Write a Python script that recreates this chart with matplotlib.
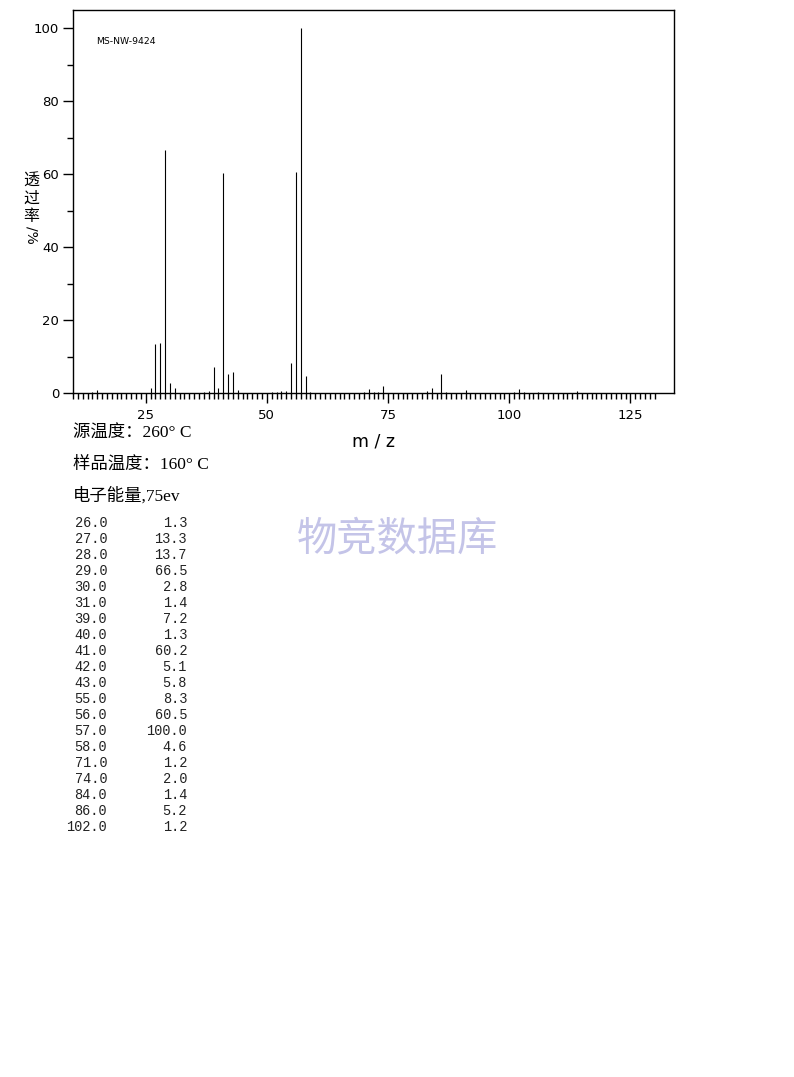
import matplotlib
matplotlib.use("Agg")
import matplotlib.pyplot as plt
from matplotlib.ticker import MultipleLocator, FixedLocator

# ---- data ----
table_mz = [26.0, 27.0, 28.0, 29.0, 30.0, 31.0, 39.0, 40.0, 41.0, 42.0,
            43.0, 55.0, 56.0, 57.0, 58.0, 71.0, 74.0, 84.0, 86.0, 102.0]
table_int = [1.3, 13.3, 13.7, 66.5, 2.8, 1.4, 7.2, 1.3, 60.2, 5.1,
             5.8, 8.3, 60.5, 100.0, 4.6, 1.2, 2.0, 1.4, 5.2, 1.2]
# minor peaks visible in the spectrum but not listed in the table (estimated)
minor_mz = [14, 15, 37, 38, 44, 51, 52, 53, 54, 59, 70, 72, 73, 83, 87, 91, 101, 103, 106, 114]
minor_int = [0.3, 0.8, 0.4, 0.6, 0.9, 0.3, 0.3, 0.6, 0.5, 0.3, 0.4, 0.3, 0.4, 0.5, 0.3, 0.8, 0.4, 0.2, 0.3, 0.5]

y_ticks = [0, 20, 40, 60, 80, 100]
x_ticks = [25, 50, 75, 100, 125]
code = "MS-NW-9424"
info_lines = ["源温度：260° C", "样品温度：160° C", "电子能量,75ev"]
watermark = "物竞数据库"

W, H = 794, 1077
fig = plt.figure(figsize=(W / 100, H / 100), dpi=100)

def fx(x):
    return x / W

def fy(y):
    return 1 - y / H

ax = fig.add_axes([fx(73), fy(393), fx(674) - fx(73), fy(10) - fy(393)])
ax.vlines(minor_mz, 0, minor_int, colors="black", linewidth=0.8)
ax.vlines(table_mz, 0, table_int, colors="black", linewidth=0.8)
ax.set_xlim(10, 134)
ax.set_ylim(0, 105)

for s in ax.spines.values():
    s.set_linewidth(1.0)

ax.xaxis.set_major_locator(FixedLocator(x_ticks))
ax.xaxis.set_minor_locator(FixedLocator([v for v in range(10, 131) if v not in x_ticks]))
ax.yaxis.set_major_locator(FixedLocator(y_ticks))
ax.yaxis.set_minor_locator(MultipleLocator(10))
ax.tick_params(axis="x", which="major", direction="out", length=7.5, width=1, labelsize=9.5, pad=4)
ax.tick_params(axis="x", which="minor", direction="out", length=4, width=1)
ax.tick_params(axis="y", which="major", direction="out", length=7.5, width=1, labelsize=9.5, pad=2.5)
ax.tick_params(axis="y", which="minor", direction="out", length=4, width=1)

fig.text(fx(96), fy(41), code, fontsize=6.7, va="center", ha="left", family="DejaVu Sans")

# axis labels
fig.text(fx(373), fy(441), "m / z", fontsize=12.5, ha="center", va="center", family="DejaVu Sans")
cjk = ["Noto Sans CJK SC", "DejaVu Sans"]
for i, ch in enumerate("透过率"):
    fig.text(fx(31), fy(181 + i * 17.5), ch, fontsize=11.5, ha="center", va="center", family=cjk)
fig.text(fx(31), fy(235), "/%", fontsize=10, rotation=-90, ha="center", va="center", family="DejaVu Sans")

# info lines
serif_cjk = ["Liberation Serif", "Noto Sans CJK SC"]
for i, line in enumerate(info_lines):
    fig.text(fx(73), fy(434 + i * 31), line, fontsize=12.5, ha="left", va="center", family=serif_cjk)

# peak table
for i, (m, v) in enumerate(zip(table_mz, table_int)):
    y = fy(523 + i * 16)
    fig.text(fx(107), y, f"{m:.1f}", fontsize=9.8, ha="right", va="center",
             family="Liberation Mono", color="#222222")
    fig.text(fx(187), y, f"{v:.1f}", fontsize=9.8, ha="right", va="center",
             family="Liberation Mono", color="#222222")

# watermark
fig.text(fx(397), fy(539), watermark, fontsize=29, ha="center", va="center",
         family=cjk, color="#c4c4e8")

fig.savefig("out.png", dpi=100)
